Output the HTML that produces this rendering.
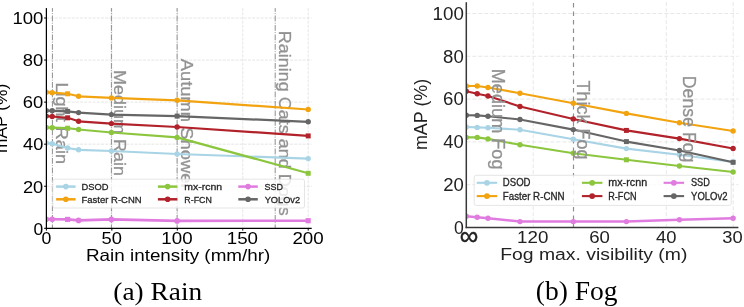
<!DOCTYPE html>
<html><head><meta charset="utf-8"><style>
html,body{margin:0;padding:0;background:#fff;width:744px;height:307px;overflow:hidden}
svg{display:block;will-change:transform}
</style></head><body>
<svg width="744" height="307" viewBox="0 0 744 307">
<line x1="46.4" y1="186.24" x2="311.7" y2="186.24" stroke="#e3e3e3" stroke-width="0.9" stroke-dasharray="3,1.2"/>
<line x1="46.4" y1="144.18" x2="311.7" y2="144.18" stroke="#e3e3e3" stroke-width="0.9" stroke-dasharray="3,1.2"/>
<line x1="46.4" y1="102.12" x2="311.7" y2="102.12" stroke="#e3e3e3" stroke-width="0.9" stroke-dasharray="3,1.2"/>
<line x1="46.4" y1="60.06" x2="311.7" y2="60.06" stroke="#e3e3e3" stroke-width="0.9" stroke-dasharray="3,1.2"/>
<line x1="46.4" y1="18" x2="311.7" y2="18" stroke="#e3e3e3" stroke-width="0.9" stroke-dasharray="3,1.2"/>
<line x1="111.85" y1="8.1" x2="111.85" y2="228.3" stroke="#e3e3e3" stroke-width="0.9" stroke-dasharray="3,1.2"/>
<line x1="177.3" y1="8.1" x2="177.3" y2="228.3" stroke="#e3e3e3" stroke-width="0.9" stroke-dasharray="3,1.2"/>
<line x1="242.75" y1="8.1" x2="242.75" y2="228.3" stroke="#e3e3e3" stroke-width="0.9" stroke-dasharray="3,1.2"/>
<line x1="308.2" y1="8.1" x2="308.2" y2="228.3" stroke="#e3e3e3" stroke-width="0.9" stroke-dasharray="3,1.2"/>
<line x1="52.4" y1="8.1" x2="52.4" y2="228.3" stroke="#8f8f8f" stroke-width="1.0" stroke-dasharray="5.8,1.4,0.9,1.4" stroke-dashoffset="2.1"/>
<line x1="111.4" y1="8.1" x2="111.4" y2="228.3" stroke="#8f8f8f" stroke-width="1.0" stroke-dasharray="5.8,1.4,0.9,1.4" stroke-dashoffset="2.1"/>
<line x1="177.1" y1="8.1" x2="177.1" y2="228.3" stroke="#8f8f8f" stroke-width="1.0" stroke-dasharray="5.8,1.4,0.9,1.4" stroke-dashoffset="2.1"/>
<line x1="275.2" y1="8.1" x2="275.2" y2="228.3" stroke="#8f8f8f" stroke-width="1.0" stroke-dasharray="5.8,1.4,0.9,1.4" stroke-dashoffset="2.1"/>
<text transform="translate(55.8,82.45) rotate(90) scale(1.0472,1)" font-family='"Liberation Sans", sans-serif' font-size="17.298" fill="#929292" stroke="#929292" stroke-width="0.3">Light Rain</text>
<text transform="translate(114.2,69.96) rotate(90) scale(1.0415,1)" font-family='"Liberation Sans", sans-serif' font-size="17.298" fill="#929292" stroke="#929292" stroke-width="0.3">Medium Rain</text>
<text transform="translate(180.5,58.7) rotate(90) scale(1.0638,1)" font-family='"Liberation Sans", sans-serif' font-size="17.298" fill="#929292" stroke="#929292" stroke-width="0.3">Autumn Shower</text>
<text transform="translate(278.8,30.76) rotate(90) scale(1.0405,1)" font-family='"Liberation Sans", sans-serif' font-size="17.298" fill="#929292" stroke="#929292" stroke-width="0.3">Raining Cats and Dogs</text>
<defs><clipPath id="cl"><rect x="46.4" y="8.1" width="265.2" height="220.2"/></clipPath><clipPath id="cr"><rect x="466.3" y="2.2" width="272.5" height="225.3"/></clipPath></defs><g clip-path="url(#cl)">
<polyline points="46.3,142.9 52.2,143.8 67.6,148 78.6,149.8 111.4,151 177.1,154 308.2,158.6" fill="none" stroke="#a8d4e6" stroke-width="2.2" stroke-linejoin="round" stroke-linecap="butt"/>
<circle cx="46.3" cy="142.9" r="2.7" fill="#a8d4e6"/>
<circle cx="52.2" cy="143.8" r="2.7" fill="#a8d4e6"/>
<circle cx="67.6" cy="148" r="2.7" fill="#a8d4e6"/>
<circle cx="78.6" cy="149.8" r="2.7" fill="#a8d4e6"/>
<circle cx="111.4" cy="151" r="2.7" fill="#a8d4e6"/>
<circle cx="177.1" cy="154" r="2.7" fill="#a8d4e6"/>
<circle cx="308.2" cy="158.6" r="2.7" fill="#a8d4e6"/>
<polyline points="46.3,92.2 52.2,92.7 67.6,93.8 78.6,96.3 111.4,97.9 177.1,100.3 308.2,109.5" fill="none" stroke="#f2a310" stroke-width="2.2" stroke-linejoin="round" stroke-linecap="butt"/>
<circle cx="46.3" cy="92.2" r="2.7" fill="#f2a310"/>
<circle cx="52.2" cy="92.7" r="2.7" fill="#f2a310"/>
<rect x="65.12" y="91.32" width="4.97" height="4.97" fill="#f2a310"/>
<circle cx="78.6" cy="96.3" r="2.7" fill="#f2a310"/>
<circle cx="111.4" cy="97.9" r="2.7" fill="#f2a310"/>
<circle cx="177.1" cy="100.3" r="2.7" fill="#f2a310"/>
<circle cx="308.2" cy="109.5" r="2.7" fill="#f2a310"/>
<polyline points="46.3,127.5 52.2,127.7 67.6,128.2 78.6,129.5 111.4,132.5 177.1,137.4 308.2,173.3" fill="none" stroke="#8cc63e" stroke-width="2.2" stroke-linejoin="round" stroke-linecap="butt"/>
<circle cx="46.3" cy="127.5" r="2.7" fill="#8cc63e"/>
<circle cx="52.2" cy="127.7" r="2.7" fill="#8cc63e"/>
<rect x="65.12" y="125.72" width="4.97" height="4.97" fill="#8cc63e"/>
<circle cx="78.6" cy="129.5" r="2.7" fill="#8cc63e"/>
<circle cx="111.4" cy="132.5" r="2.7" fill="#8cc63e"/>
<circle cx="177.1" cy="137.4" r="2.7" fill="#8cc63e"/>
<rect x="305.72" y="170.82" width="4.97" height="4.97" fill="#8cc63e"/>
<polyline points="46.3,116.1 52.2,116.5 67.6,117.8 78.6,121.3 111.4,123.6 177.1,127 308.2,135.9" fill="none" stroke="#b2222a" stroke-width="2.2" stroke-linejoin="round" stroke-linecap="butt"/>
<circle cx="46.3" cy="116.1" r="2.7" fill="#b2222a"/>
<circle cx="52.2" cy="116.5" r="2.7" fill="#b2222a"/>
<rect x="65.12" y="115.32" width="4.97" height="4.97" fill="#b2222a"/>
<circle cx="78.6" cy="121.3" r="2.7" fill="#b2222a"/>
<circle cx="111.4" cy="123.6" r="2.7" fill="#b2222a"/>
<circle cx="177.1" cy="127" r="2.7" fill="#b2222a"/>
<rect x="305.72" y="133.42" width="4.97" height="4.97" fill="#b2222a"/>
<polyline points="46.3,110.6 52.2,110.8 67.6,111.4 78.6,112.6 111.4,114.6 177.1,116.1 308.2,121.8" fill="none" stroke="#666666" stroke-width="2.2" stroke-linejoin="round" stroke-linecap="butt"/>
<circle cx="46.3" cy="110.6" r="2.7" fill="#666666"/>
<circle cx="52.2" cy="110.8" r="2.7" fill="#666666"/>
<rect x="65.12" y="108.92" width="4.97" height="4.97" fill="#666666"/>
<circle cx="78.6" cy="112.6" r="2.7" fill="#666666"/>
<circle cx="111.4" cy="114.6" r="2.7" fill="#666666"/>
<rect x="174.62" y="113.62" width="4.97" height="4.97" fill="#666666"/>
<circle cx="308.2" cy="121.8" r="2.7" fill="#666666"/>
<polyline points="46.3,219.2 52.2,219.2 67.6,219.4 78.6,220.4 111.4,219.4 177.1,220.9 308.2,220.7" fill="none" stroke="#e07be0" stroke-width="2.6" stroke-linejoin="round" stroke-linecap="butt"/>
<circle cx="46.3" cy="219.2" r="2.8" fill="#e07be0"/>
<circle cx="52.2" cy="219.2" r="2.8" fill="#e07be0"/>
<rect x="65.02" y="216.82" width="5.15" height="5.15" fill="#e07be0"/>
<circle cx="78.6" cy="220.4" r="2.8" fill="#e07be0"/>
<circle cx="111.4" cy="219.4" r="2.8" fill="#e07be0"/>
<circle cx="177.1" cy="220.9" r="2.8" fill="#e07be0"/>
<rect x="305.62" y="218.12" width="5.15" height="5.15" fill="#e07be0"/>
</g>
<rect x="52.8" y="179.2" width="251.7" height="28.8" rx="2" fill="#ffffff" fill-opacity="0.8" stroke="#dedede" stroke-width="0.8"/>
<line x1="56.1" y1="186.6" x2="75.6" y2="186.6" stroke="#a8d4e6" stroke-width="2.5"/>
<circle cx="65.85" cy="186.6" r="2.8" fill="#a8d4e6"/>
<text transform="translate(81.55,189.9) scale(0.9589,1)" font-family='"Liberation Sans", sans-serif' font-size="9.733" fill="#262626" stroke="#262626" stroke-width="0.3">DSOD</text>
<line x1="56.1" y1="199.3" x2="75.6" y2="199.3" stroke="#f2a310" stroke-width="2.5"/>
<circle cx="65.85" cy="199.3" r="2.8" fill="#f2a310"/>
<text transform="translate(81.54,202.6) scale(0.9751,1)" font-family='"Liberation Sans", sans-serif' font-size="9.733" fill="#262626" stroke="#262626" stroke-width="0.3">Faster R-CNN</text>
<line x1="157.9" y1="186.6" x2="177.4" y2="186.6" stroke="#8cc63e" stroke-width="2.5"/>
<circle cx="167.65" cy="186.6" r="2.8" fill="#8cc63e"/>
<text transform="translate(184.32,189.9) scale(1.0756,1)" font-family='"Liberation Sans", sans-serif' font-size="9.733" fill="#262626" stroke="#262626" stroke-width="0.3">mx-rcnn</text>
<line x1="157.9" y1="199.3" x2="177.4" y2="199.3" stroke="#b2222a" stroke-width="2.5"/>
<circle cx="167.65" cy="199.3" r="2.8" fill="#b2222a"/>
<text transform="translate(184.29,202.6) scale(0.9100,1)" font-family='"Liberation Sans", sans-serif' font-size="9.733" fill="#262626" stroke="#262626" stroke-width="0.3">R-FCN</text>
<line x1="238.3" y1="186.6" x2="257.8" y2="186.6" stroke="#e07be0" stroke-width="2.5"/>
<circle cx="248.05" cy="186.6" r="2.8" fill="#e07be0"/>
<text transform="translate(264.5,189.9) scale(0.9212,1)" font-family='"Liberation Sans", sans-serif' font-size="9.733" fill="#262626" stroke="#262626" stroke-width="0.3">SSD</text>
<line x1="238.3" y1="199.3" x2="257.8" y2="199.3" stroke="#666666" stroke-width="2.5"/>
<circle cx="248.05" cy="199.3" r="2.8" fill="#666666"/>
<text transform="translate(264.67,202.6) scale(0.9502,1)" font-family='"Liberation Sans", sans-serif' font-size="9.733" fill="#262626" stroke="#262626" stroke-width="0.3">YOLOv2</text>
<line x1="46.4" y1="8.1" x2="46.4" y2="228.9" stroke="#000000" stroke-width="1.25"/>
<line x1="45.8" y1="228.3" x2="311.7" y2="228.3" stroke="#000000" stroke-width="1.25"/>
<line x1="44.1" y1="228.3" x2="46.4" y2="228.3" stroke="#000000" stroke-width="1.0"/>
<line x1="44.1" y1="186.24" x2="46.4" y2="186.24" stroke="#000000" stroke-width="1.0"/>
<line x1="44.1" y1="144.18" x2="46.4" y2="144.18" stroke="#000000" stroke-width="1.0"/>
<line x1="44.1" y1="102.12" x2="46.4" y2="102.12" stroke="#000000" stroke-width="1.0"/>
<line x1="44.1" y1="60.06" x2="46.4" y2="60.06" stroke="#000000" stroke-width="1.0"/>
<line x1="44.1" y1="18" x2="46.4" y2="18" stroke="#000000" stroke-width="1.0"/>
<line x1="46.4" y1="228.3" x2="46.4" y2="230.6" stroke="#000000" stroke-width="1.0"/>
<line x1="111.85" y1="228.3" x2="111.85" y2="230.6" stroke="#000000" stroke-width="1.0"/>
<line x1="177.3" y1="228.3" x2="177.3" y2="230.6" stroke="#000000" stroke-width="1.0"/>
<line x1="242.75" y1="228.3" x2="242.75" y2="230.6" stroke="#000000" stroke-width="1.0"/>
<line x1="308.2" y1="228.3" x2="308.2" y2="230.6" stroke="#000000" stroke-width="1.0"/>
<text transform="translate(33.52,234.58) scale(1.0081,1)" font-family='"Liberation Sans", sans-serif' font-size="17.324" fill="#000000">0</text>
<text transform="translate(22.93,192.52) scale(1.0564,1)" font-family='"Liberation Sans", sans-serif' font-size="17.324" fill="#000000">20</text>
<text transform="translate(23.06,150.46) scale(1.0490,1)" font-family='"Liberation Sans", sans-serif' font-size="17.324" fill="#000000">40</text>
<text transform="translate(22.84,108.4) scale(1.0610,1)" font-family='"Liberation Sans", sans-serif' font-size="17.324" fill="#000000">60</text>
<text transform="translate(22.85,66.34) scale(1.0605,1)" font-family='"Liberation Sans", sans-serif' font-size="17.324" fill="#000000">80</text>
<text transform="translate(12.41,24.28) scale(1.0691,1)" font-family='"Liberation Sans", sans-serif' font-size="17.324" fill="#000000">100</text>
<text transform="translate(41.45,243.63) scale(1.0458,1)" font-family='"Liberation Sans", sans-serif' font-size="16.901" fill="#000000">0</text>
<text transform="translate(101.62,243.63) scale(1.0852,1)" font-family='"Liberation Sans", sans-serif' font-size="16.901" fill="#000000">50</text>
<text transform="translate(161.32,243.63) scale(1.1091,1)" font-family='"Liberation Sans", sans-serif' font-size="16.901" fill="#000000">100</text>
<text transform="translate(226.77,243.63) scale(1.1091,1)" font-family='"Liberation Sans", sans-serif' font-size="16.901" fill="#000000">150</text>
<text transform="translate(292.39,243.63) scale(1.1135,1)" font-family='"Liberation Sans", sans-serif' font-size="16.901" fill="#000000">200</text>
<text transform="translate(85.99,260.6) scale(1.1141,1)" font-family='"Liberation Sans", sans-serif' font-size="16.928" fill="#000000">Rain intensity (mm/hr)</text>
<line x1="466.3" y1="184.7" x2="738.4" y2="184.7" stroke="#e4e4e4" stroke-width="0.9" stroke-dasharray="4,2"/>
<line x1="466.3" y1="141.9" x2="738.4" y2="141.9" stroke="#e4e4e4" stroke-width="0.9" stroke-dasharray="4,2"/>
<line x1="466.3" y1="99.1" x2="738.4" y2="99.1" stroke="#e4e4e4" stroke-width="0.9" stroke-dasharray="4,2"/>
<line x1="466.3" y1="56.3" x2="738.4" y2="56.3" stroke="#e4e4e4" stroke-width="0.9" stroke-dasharray="4,2"/>
<line x1="466.3" y1="13.5" x2="738.4" y2="13.5" stroke="#e4e4e4" stroke-width="0.9" stroke-dasharray="4,2"/>
<line x1="533.2" y1="2.2" x2="533.2" y2="227.5" stroke="#e4e4e4" stroke-width="0.9" stroke-dasharray="4,2"/>
<line x1="666.3" y1="2.2" x2="666.3" y2="227.5" stroke="#e4e4e4" stroke-width="0.9" stroke-dasharray="4,2"/>
<line x1="733.2" y1="2.2" x2="733.2" y2="227.5" stroke="#e4e4e4" stroke-width="0.9" stroke-dasharray="4,2"/>
<line x1="573.5" y1="2.2" x2="573.5" y2="227.5" stroke="#8f8f8f" stroke-width="1.2" stroke-dasharray="4.5,4" stroke-dashoffset="7.8"/>
<g clip-path="url(#cr)">
<polyline points="466.3,127 477.2,127.4 488,127.8 520,129.8 573.3,139.3 626.4,148.6 679.4,154.8 733.1,162" fill="none" stroke="#a8d4e6" stroke-width="2.1" stroke-linejoin="round" stroke-linecap="butt"/>
<circle cx="466.3" cy="127" r="2.7" fill="#a8d4e6"/>
<circle cx="477.2" cy="127.4" r="2.7" fill="#a8d4e6"/>
<circle cx="488" cy="127.8" r="2.7" fill="#a8d4e6"/>
<circle cx="520" cy="129.8" r="2.7" fill="#a8d4e6"/>
<circle cx="573.3" cy="139.3" r="2.7" fill="#a8d4e6"/>
<circle cx="626.4" cy="148.6" r="2.7" fill="#a8d4e6"/>
<circle cx="679.4" cy="154.8" r="2.7" fill="#a8d4e6"/>
<circle cx="733.1" cy="162" r="2.7" fill="#a8d4e6"/>
<polyline points="466.3,86 477.2,86 488,87.5 520,93.2 573.3,103.2 626.4,113.4 679.4,122.7 733.1,131" fill="none" stroke="#f2a310" stroke-width="2.1" stroke-linejoin="round" stroke-linecap="butt"/>
<circle cx="466.3" cy="86" r="2.7" fill="#f2a310"/>
<circle cx="477.2" cy="86" r="2.7" fill="#f2a310"/>
<circle cx="488" cy="87.5" r="2.7" fill="#f2a310"/>
<circle cx="520" cy="93.2" r="2.7" fill="#f2a310"/>
<circle cx="573.3" cy="103.2" r="2.7" fill="#f2a310"/>
<circle cx="626.4" cy="113.4" r="2.7" fill="#f2a310"/>
<circle cx="679.4" cy="122.7" r="2.7" fill="#f2a310"/>
<circle cx="733.1" cy="131" r="2.7" fill="#f2a310"/>
<polyline points="466.3,137.4 477.2,137.4 488,138.9 520,144.8 573.3,153.2 626.4,159.8 679.4,166 733.1,172" fill="none" stroke="#8cc63e" stroke-width="2.1" stroke-linejoin="round" stroke-linecap="butt"/>
<circle cx="466.3" cy="137.4" r="2.7" fill="#8cc63e"/>
<circle cx="477.2" cy="137.4" r="2.7" fill="#8cc63e"/>
<circle cx="488" cy="138.9" r="2.7" fill="#8cc63e"/>
<circle cx="520" cy="144.8" r="2.7" fill="#8cc63e"/>
<circle cx="573.3" cy="153.2" r="2.7" fill="#8cc63e"/>
<rect x="623.92" y="157.32" width="4.97" height="4.97" fill="#8cc63e"/>
<circle cx="679.4" cy="166" r="2.7" fill="#8cc63e"/>
<circle cx="733.1" cy="172" r="2.7" fill="#8cc63e"/>
<polyline points="466.3,91.3 477.2,93.8 488,96 520,106.5 573.3,119 626.4,130.4 679.4,138.6 733.1,148.5" fill="none" stroke="#b2222a" stroke-width="2.1" stroke-linejoin="round" stroke-linecap="butt"/>
<circle cx="466.3" cy="91.3" r="2.7" fill="#b2222a"/>
<circle cx="477.2" cy="93.8" r="2.7" fill="#b2222a"/>
<circle cx="488" cy="96" r="2.7" fill="#b2222a"/>
<circle cx="520" cy="106.5" r="2.7" fill="#b2222a"/>
<circle cx="573.3" cy="119" r="2.7" fill="#b2222a"/>
<rect x="623.92" y="127.92" width="4.97" height="4.97" fill="#b2222a"/>
<circle cx="679.4" cy="138.6" r="2.7" fill="#b2222a"/>
<circle cx="733.1" cy="148.5" r="2.7" fill="#b2222a"/>
<polyline points="466.3,115.3 477.2,115.4 488,116.2 520,119.5 573.3,129.6 626.4,141.6 679.4,150.5 733.1,162.3" fill="none" stroke="#666666" stroke-width="2.1" stroke-linejoin="round" stroke-linecap="butt"/>
<circle cx="466.3" cy="115.3" r="2.7" fill="#666666"/>
<circle cx="477.2" cy="115.4" r="2.7" fill="#666666"/>
<circle cx="488" cy="116.2" r="2.7" fill="#666666"/>
<circle cx="520" cy="119.5" r="2.7" fill="#666666"/>
<circle cx="573.3" cy="129.6" r="2.7" fill="#666666"/>
<rect x="623.92" y="139.12" width="4.97" height="4.97" fill="#666666"/>
<circle cx="679.4" cy="150.5" r="2.7" fill="#666666"/>
<rect x="730.62" y="159.82" width="4.97" height="4.97" fill="#666666"/>
<polyline points="466.3,216.3 477.2,217.2 488,218.2 520,221.6 573.3,221.6 626.4,221.6 679.4,219.7 733.1,218.2" fill="none" stroke="#e07be0" stroke-width="2.5" stroke-linejoin="round" stroke-linecap="butt"/>
<circle cx="466.3" cy="216.3" r="2.7" fill="#e07be0"/>
<circle cx="477.2" cy="217.2" r="2.7" fill="#e07be0"/>
<circle cx="488" cy="218.2" r="2.7" fill="#e07be0"/>
<circle cx="520" cy="221.6" r="2.7" fill="#e07be0"/>
<circle cx="573.3" cy="221.6" r="2.7" fill="#e07be0"/>
<circle cx="626.4" cy="221.6" r="2.7" fill="#e07be0"/>
<circle cx="679.4" cy="219.7" r="2.7" fill="#e07be0"/>
<circle cx="733.1" cy="218.2" r="2.7" fill="#e07be0"/>
</g>
<text transform="translate(492,68.75) rotate(90) scale(1.0334,1)" font-family='"Liberation Sans", sans-serif' font-size="17.562" fill="#929292" stroke="#929292" stroke-width="0.3">Medium Fog</text>
<text transform="translate(577.3,80.44) rotate(90) scale(1.0253,1)" font-family='"Liberation Sans", sans-serif' font-size="17.562" fill="#929292" stroke="#929292" stroke-width="0.3">Thick Fog</text>
<text transform="translate(683.3,75.78) rotate(90) scale(1.0099,1)" font-family='"Liberation Sans", sans-serif' font-size="17.562" fill="#929292" stroke="#929292" stroke-width="0.3">Dense Fog</text>
<rect x="474.2" y="175.3" width="257" height="30.1" rx="2" fill="#ffffff" fill-opacity="0.8" stroke="#dedede" stroke-width="0.8"/>
<line x1="476.7" y1="182.8" x2="497.2" y2="182.8" stroke="#a8d4e6" stroke-width="2.1"/>
<circle cx="486.95" cy="182.8" r="2.9" fill="#a8d4e6"/>
<text transform="translate(502.83,186.3) scale(0.9589,1)" font-family='"Liberation Sans", sans-serif' font-size="9.998" fill="#262626" stroke="#262626" stroke-width="0.3">DSOD</text>
<line x1="476.7" y1="196.1" x2="497.2" y2="196.1" stroke="#f2a310" stroke-width="2.1"/>
<circle cx="486.95" cy="196.1" r="2.9" fill="#f2a310"/>
<text transform="translate(502.82,199.6) scale(0.9751,1)" font-family='"Liberation Sans", sans-serif' font-size="9.998" fill="#262626" stroke="#262626" stroke-width="0.3">Faster R-CNN</text>
<line x1="581.9" y1="182.8" x2="602.4" y2="182.8" stroke="#8cc63e" stroke-width="2.1"/>
<circle cx="592.15" cy="182.8" r="2.9" fill="#8cc63e"/>
<text transform="translate(608.3,186.3) scale(1.0756,1)" font-family='"Liberation Sans", sans-serif' font-size="9.998" fill="#262626" stroke="#262626" stroke-width="0.3">mx-rcnn</text>
<line x1="581.9" y1="196.1" x2="602.4" y2="196.1" stroke="#b2222a" stroke-width="2.1"/>
<circle cx="592.15" cy="196.1" r="2.9" fill="#b2222a"/>
<text transform="translate(608.27,199.6) scale(0.9100,1)" font-family='"Liberation Sans", sans-serif' font-size="9.998" fill="#262626" stroke="#262626" stroke-width="0.3">R-FCN</text>
<line x1="663.6" y1="182.8" x2="684.1" y2="182.8" stroke="#e07be0" stroke-width="2.1"/>
<circle cx="673.85" cy="182.8" r="2.9" fill="#e07be0"/>
<text transform="translate(690.89,186.3) scale(0.9212,1)" font-family='"Liberation Sans", sans-serif' font-size="9.998" fill="#262626" stroke="#262626" stroke-width="0.3">SSD</text>
<line x1="663.6" y1="196.1" x2="684.1" y2="196.1" stroke="#666666" stroke-width="2.1"/>
<circle cx="673.85" cy="196.1" r="2.9" fill="#666666"/>
<text transform="translate(691.06,199.6) scale(0.9502,1)" font-family='"Liberation Sans", sans-serif' font-size="9.998" fill="#262626" stroke="#262626" stroke-width="0.3">YOLOv2</text>
<line x1="466.3" y1="2.2" x2="466.3" y2="228.2" stroke="#383838" stroke-width="1.5"/>
<line x1="465.6" y1="227.5" x2="738.4" y2="227.5" stroke="#383838" stroke-width="1.5"/>
<text transform="translate(453.91,233.73) scale(1.0120,1)" font-family='"Liberation Sans", sans-serif' font-size="17.465" fill="#222222">0</text>
<text transform="translate(443.19,190.93) scale(1.0605,1)" font-family='"Liberation Sans", sans-serif' font-size="17.465" fill="#222222">20</text>
<text transform="translate(443.33,148.13) scale(1.0531,1)" font-family='"Liberation Sans", sans-serif' font-size="17.465" fill="#222222">40</text>
<text transform="translate(443.1,105.33) scale(1.0652,1)" font-family='"Liberation Sans", sans-serif' font-size="17.465" fill="#222222">60</text>
<text transform="translate(443.11,62.53) scale(1.0647,1)" font-family='"Liberation Sans", sans-serif' font-size="17.465" fill="#222222">80</text>
<text transform="translate(432.55,19.73) scale(1.0733,1)" font-family='"Liberation Sans", sans-serif' font-size="17.465" fill="#222222">100</text>
<text transform="translate(517.12,242.93) scale(1.0820,1)" font-family='"Liberation Sans", sans-serif' font-size="17.324" fill="#222222">120</text>
<text transform="translate(589.14,242.93) scale(1.0738,1)" font-family='"Liberation Sans", sans-serif' font-size="17.324" fill="#222222">60</text>
<text transform="translate(656.03,242.93) scale(1.0617,1)" font-family='"Liberation Sans", sans-serif' font-size="17.324" fill="#222222">40</text>
<text transform="translate(722.37,242.93) scale(1.0588,1)" font-family='"Liberation Sans", sans-serif' font-size="17.324" fill="#222222">30</text>
<text transform="translate(459.86,244.79) scale(0.9545,1)" font-family='"Liberation Sans", sans-serif' font-size="27.273" fill="#222222" stroke="#222222" stroke-width="0.45">∞</text>
<text transform="translate(500.15,260.1) scale(1.1238,1)" font-family='"Liberation Sans", sans-serif' font-size="17.245" fill="#222222">Fog max. visibility (m)</text>
<text transform="translate(6.5,153.03) rotate(-90) scale(1.0139,1)" font-family='"Liberation Sans", sans-serif' font-size="17.192" fill="#000000">mAP (%)</text>
<text transform="translate(427.4,150.06) rotate(-90) scale(1.0139,1)" font-family='"Liberation Sans", sans-serif' font-size="17.668" fill="#222222">mAP (%)</text>
<text transform="translate(113.37,299.8) scale(1.0433,1)" font-family='"Liberation Serif", serif' font-size="26.200" fill="#000000">(a) Rain</text>
<text transform="translate(535.76,300) scale(1.0471,1)" font-family='"Liberation Serif", serif' font-size="26.300" fill="#000000">(b) Fog</text>
</svg>
</body></html>
